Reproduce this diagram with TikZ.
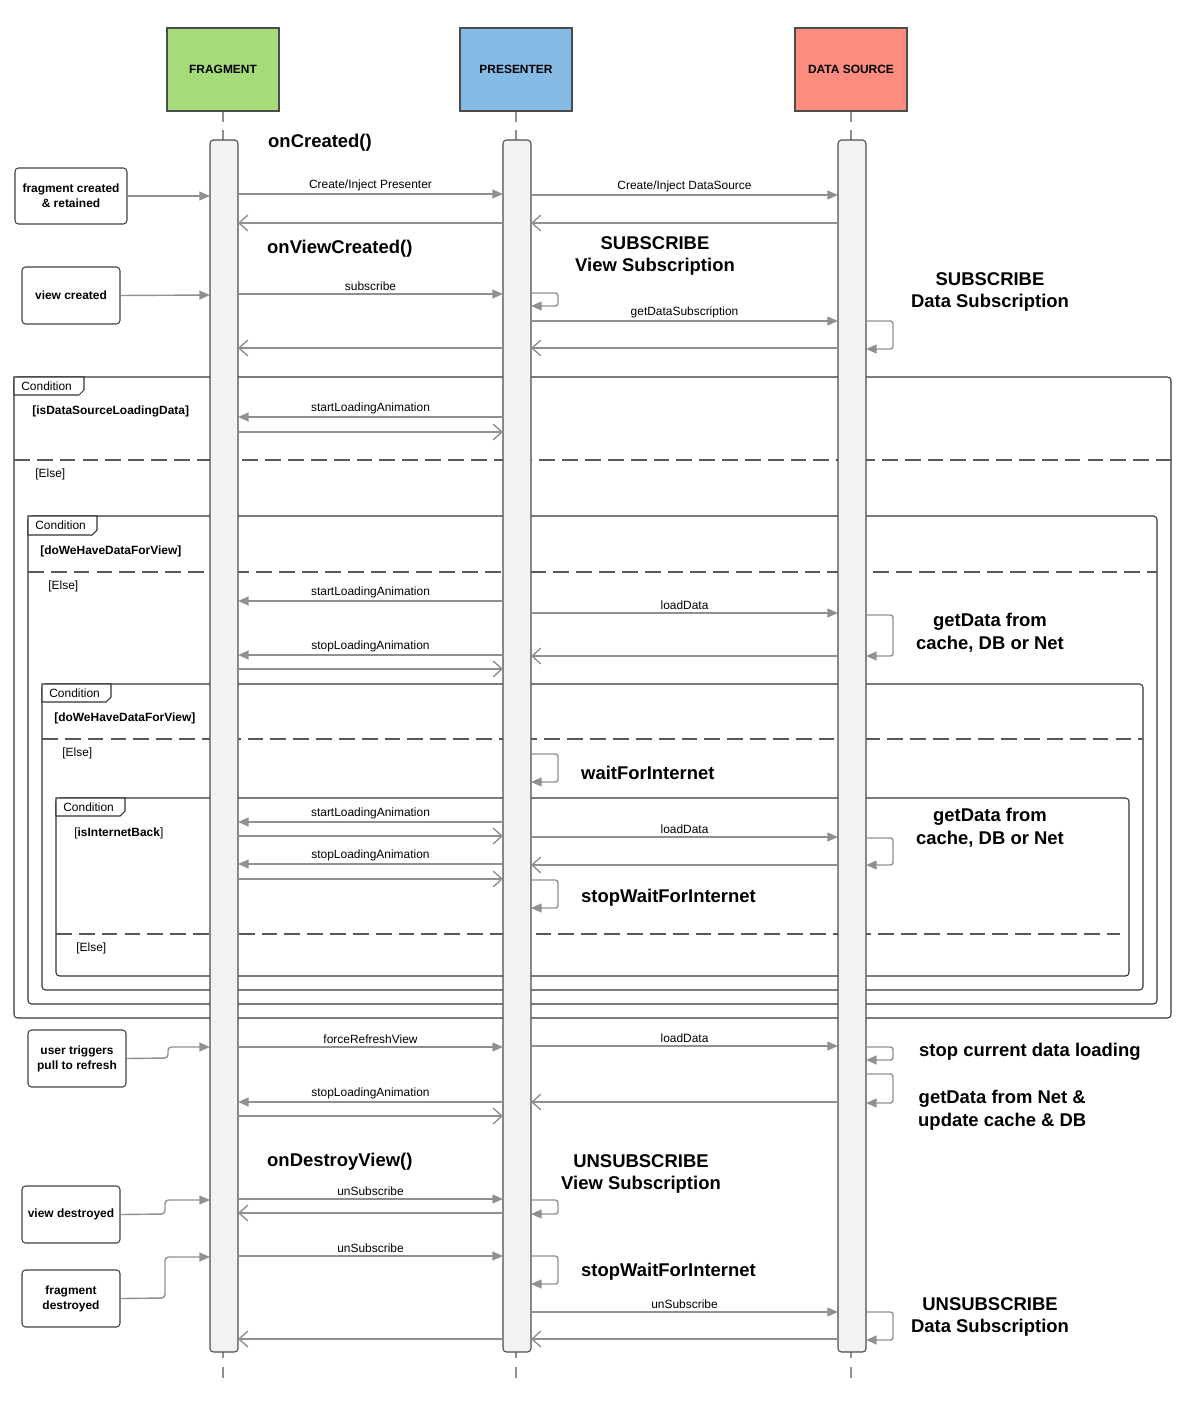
\documentclass[tikz,border=0pt]{standalone}
\usepackage{fontspec}
\setmainfont{Liberation Sans}
\usetikzlibrary{arrows.meta}
\definecolor{ln}{HTML}{909090}
\definecolor{bar}{HTML}{F2F2F2}
\tikzset{
 call/.style={draw=ln,line width=0.8pt,-{Triangle[length=6pt,width=5pt]}},
 ret/.style={draw=ln,line width=0.8pt,-{Straight Barb[length=5pt,width=9pt]}},
 lbl/.style={font=\fontsize{6.8}{8}\selectfont,above=0pt,midway,inner sep=1.5pt},
 head/.style={draw=black!70,line width=0.6pt,minimum width=2.24cm,minimum height=1.66cm,font=\fontsize{6.8}{8}\selectfont\bfseries},
 actbox/.style={draw=black!70,line width=0.6pt,rounded corners=2pt,fill=bar},
 ext/.style={draw=black!75,line width=0.6pt,rounded corners=2pt,align=center,font=\fontsize{6.8}{8.5}\selectfont\bfseries,inner sep=0pt},
 big/.style={font=\fontsize{10.5}{13}\selectfont\bfseries,align=center},
 frm/.style={draw=black!80,line width=0.6pt,rounded corners=2pt},
 tab/.style={draw=black!80,line width=0.6pt,fill=white},
 small/.style={font=\fontsize{6.8}{8}\selectfont,anchor=west,inner sep=0pt},
 dsh/.style={draw=black!65,line width=0.7pt,dash pattern=on 9pt off 4pt},
}
\newcommand{\selfP}[3]{\draw[call,rounded corners=1.5pt] (531,#1) -- (#3,#1) -- (#3,#2) -- (531,#2);}
\newcommand{\selfD}[3]{\draw[call,rounded corners=1.5pt] (866,#1) -- (#3,#1) -- (#3,#2) -- (866,#2);}
\newcommand{\frameX}[7]{% x0 y0 x1 y1 tabx taby name
 \draw[frm] (#1,#2) rectangle (#3,#4);
 \draw[tab] (#1,#2) -- (#5,#2) -- (#5,#6-5) -- (#5-5,#6) -- (#1,#6) -- cycle;
 \node[small] (#7) at (#1+7,{(#2+#6)/2}) {Condition};}
\begin{document}
\begin{tikzpicture}[x=0.02cm,y=-0.02cm]
\useasboundingbox (0,0) rectangle (1200,1409);
% lifelines
\foreach \x in {223,516,851} \draw[ln,line width=0.6pt,dash pattern=on 6pt off 5pt] (\x,111) -- (\x,1382);
\node[head,fill={rgb,255:red,166;green,219;blue,121}] (frag) at (223,69.5) {FRAGMENT};
\node[head,fill={rgb,255:red,133;green,187;blue,229}] (pres) at (516,69.5) {PRESENTER};
\node[head,fill={rgb,255:red,252;green,141;blue,126}] (ds) at (851,69.5) {DATA SOURCE};
% frames (drawn before bars)
\frameX{14}{377}{1171}{1018}{84}{395}{c1}
\node[small,font=\fontsize{6.8}{8}\selectfont\bfseries] at (32,411) {[isDataSourceLoadingData]};
\draw[dsh] (14,460) -- (1171,460);
\node[small] at (35,474) {[Else]};
\frameX{28}{516}{1157}{1004}{97}{535}{c2}
\node[small,font=\fontsize{6.8}{8}\selectfont\bfseries] at (40,551) {[doWeHaveDataForView]};
\draw[dsh] (28,572) -- (1157,572);
\node[small] at (48,586) {[Else]};
\frameX{42}{684}{1143}{990}{111}{702}{c3}
\node[small,font=\fontsize{6.8}{8}\selectfont\bfseries] at (54,718) {[doWeHaveDataForView]};
\draw[dsh] (42,739) -- (1143,739);
\node[small] at (62,753) {[Else]};
\frameX{56}{798}{1129}{976}{125}{816}{c4}
\node[small] at (74,833) {[\textbf{isInternetBack}]};
\draw[dsh] (56,934) -- (1120,934);
\node[small] at (76,948) {[Else]};
% activation bars
\draw[actbox] (210,140) rectangle (238,1352);
\draw[actbox] (503,140) rectangle (531,1352);
\draw[actbox] (838,140) rectangle (866,1352);
% titles
\node[big,anchor=west] at (262,143) {onCreated()};
\node[big,anchor=west] at (261,249) {onViewCreated()};
\node[big] at (655,256) {SUBSCRIBE\\View Subscription};
\node[big] at (990,292) {SUBSCRIBE\\Data Subscription};
% external boxes
\node[ext,minimum width=2.24cm,minimum height=1.12cm] (fc) at (71,196) {fragment created\\\& retained};
\node[ext,minimum width=1.96cm,minimum height=1.14cm] (vc) at (71,295.5) {view created};
\draw[call] (fc.east|-0,196) -- (210,196);
\draw[call] (vc.east) -- (210,295);
% onCreated
\draw[call] (238,194) -- (503,194) node[lbl] {Create/Inject Presenter};
\draw[call] (531,195) -- (838,195) node[lbl] {Create/Inject DataSource};
\draw[ret] (838,223) -- (531,223);
\draw[ret] (503,223) -- (238,223);
% onViewCreated
\draw[call] (238,294) -- (503,294) node[lbl] {subscribe};
\selfP{293}{306}{558}
\draw[call] (531,321) -- (838,321) node[lbl] {getDataSubscription};
\selfD{321}{349}{893}
\draw[ret] (838,348) -- (531,348);
\draw[ret] (503,348) -- (238,348);
% condition 1
\draw[call] (503,417) -- (238,417) node[lbl] {startLoadingAnimation};
\draw[ret] (238,432) -- (503,432);
% condition 2 else
\draw[call] (503,601) -- (238,601) node[lbl] {startLoadingAnimation};
\draw[call] (531,613) -- (838,613) node[lbl] {loadData};
\selfD{615}{656}{893}
\node[big] at (990,633) {getData from\\cache, DB or Net};
\draw[call] (503,655) -- (238,655) node[lbl] {stopLoadingAnimation};
\draw[ret] (838,656) -- (531,656);
\draw[ret] (238,669) -- (503,669);
% condition 3 else
\selfP{754}{782}{558}
\node[big,anchor=west] at (575,773) {waitForInternet};
% condition 4
\draw[call] (503,822) -- (238,822) node[lbl] {startLoadingAnimation};
\draw[ret] (238,836) -- (503,836);
\draw[call] (531,837) -- (838,837) node[lbl] {loadData};
\selfD{838}{865}{893}
\node[big] at (990,828) {getData from\\cache, DB or Net};
\draw[call] (503,864) -- (238,864) node[lbl] {stopLoadingAnimation};
\draw[ret] (838,865) -- (531,865);
\draw[ret] (238,879) -- (503,879);
\selfP{880}{908}{558}
\node[big,anchor=west] at (575,898) {stopWaitForInternet};
% pull to refresh
\node[ext,minimum width=1.96cm,minimum height=1.14cm] (ut) at (77,1058.5) {user triggers\\pull to refresh};
\draw[call,rounded corners=2pt] (ut.east) -- (168,1058) -- (168,1047) -- (210,1047);
\draw[call] (238,1047) -- (503,1047) node[lbl] {forceRefreshView};
\draw[call] (531,1046) -- (838,1046) node[lbl] {loadData};
\selfD{1047}{1060}{893}
\node[big,anchor=west] at (913,1052) {stop current data loading};
\selfD{1074}{1103}{893}
\node[big,anchor=west] at (912,1110) {getData from Net \&\\update cache \& DB};
\draw[call] (503,1102) -- (238,1102) node[lbl] {stopLoadingAnimation};
\draw[ret] (838,1102) -- (531,1102);
\draw[ret] (238,1116) -- (503,1116);
% destroy view
\node[big,anchor=west] at (261,1162) {onDestroyView()};
\node[big] at (641,1174) {UNSUBSCRIBE\\View Subscription};
\node[ext,minimum width=1.96cm,minimum height=1.14cm] (vd) at (71,1214.5) {view destroyed};
\draw[call,rounded corners=2pt] (vd.east) -- (165,1214) -- (165,1200) -- (210,1200);
\draw[call] (238,1199) -- (503,1199) node[lbl] {unSubscribe};
\selfP{1200}{1214}{558}
\draw[ret] (503,1213) -- (238,1213);
% destroy fragment
\node[ext,minimum width=1.96cm,minimum height=1.14cm] (fd) at (71,1298.5) {fragment\\destroyed};
\draw[call,rounded corners=2pt] (fd.east) -- (165,1298) -- (165,1257) -- (210,1257);
\draw[call] (238,1256) -- (503,1256) node[lbl] {unSubscribe};
\selfP{1256}{1284}{558}
\node[big,anchor=west] at (575,1272) {stopWaitForInternet};
\draw[call] (531,1312) -- (838,1312) node[lbl] {unSubscribe};
\selfD{1312}{1340}{893}
\node[big] at (990,1317) {UNSUBSCRIBE\\Data Subscription};
\draw[ret] (838,1339) -- (531,1339);
\draw[ret] (503,1339) -- (238,1339);
\end{tikzpicture}
\end{document}
